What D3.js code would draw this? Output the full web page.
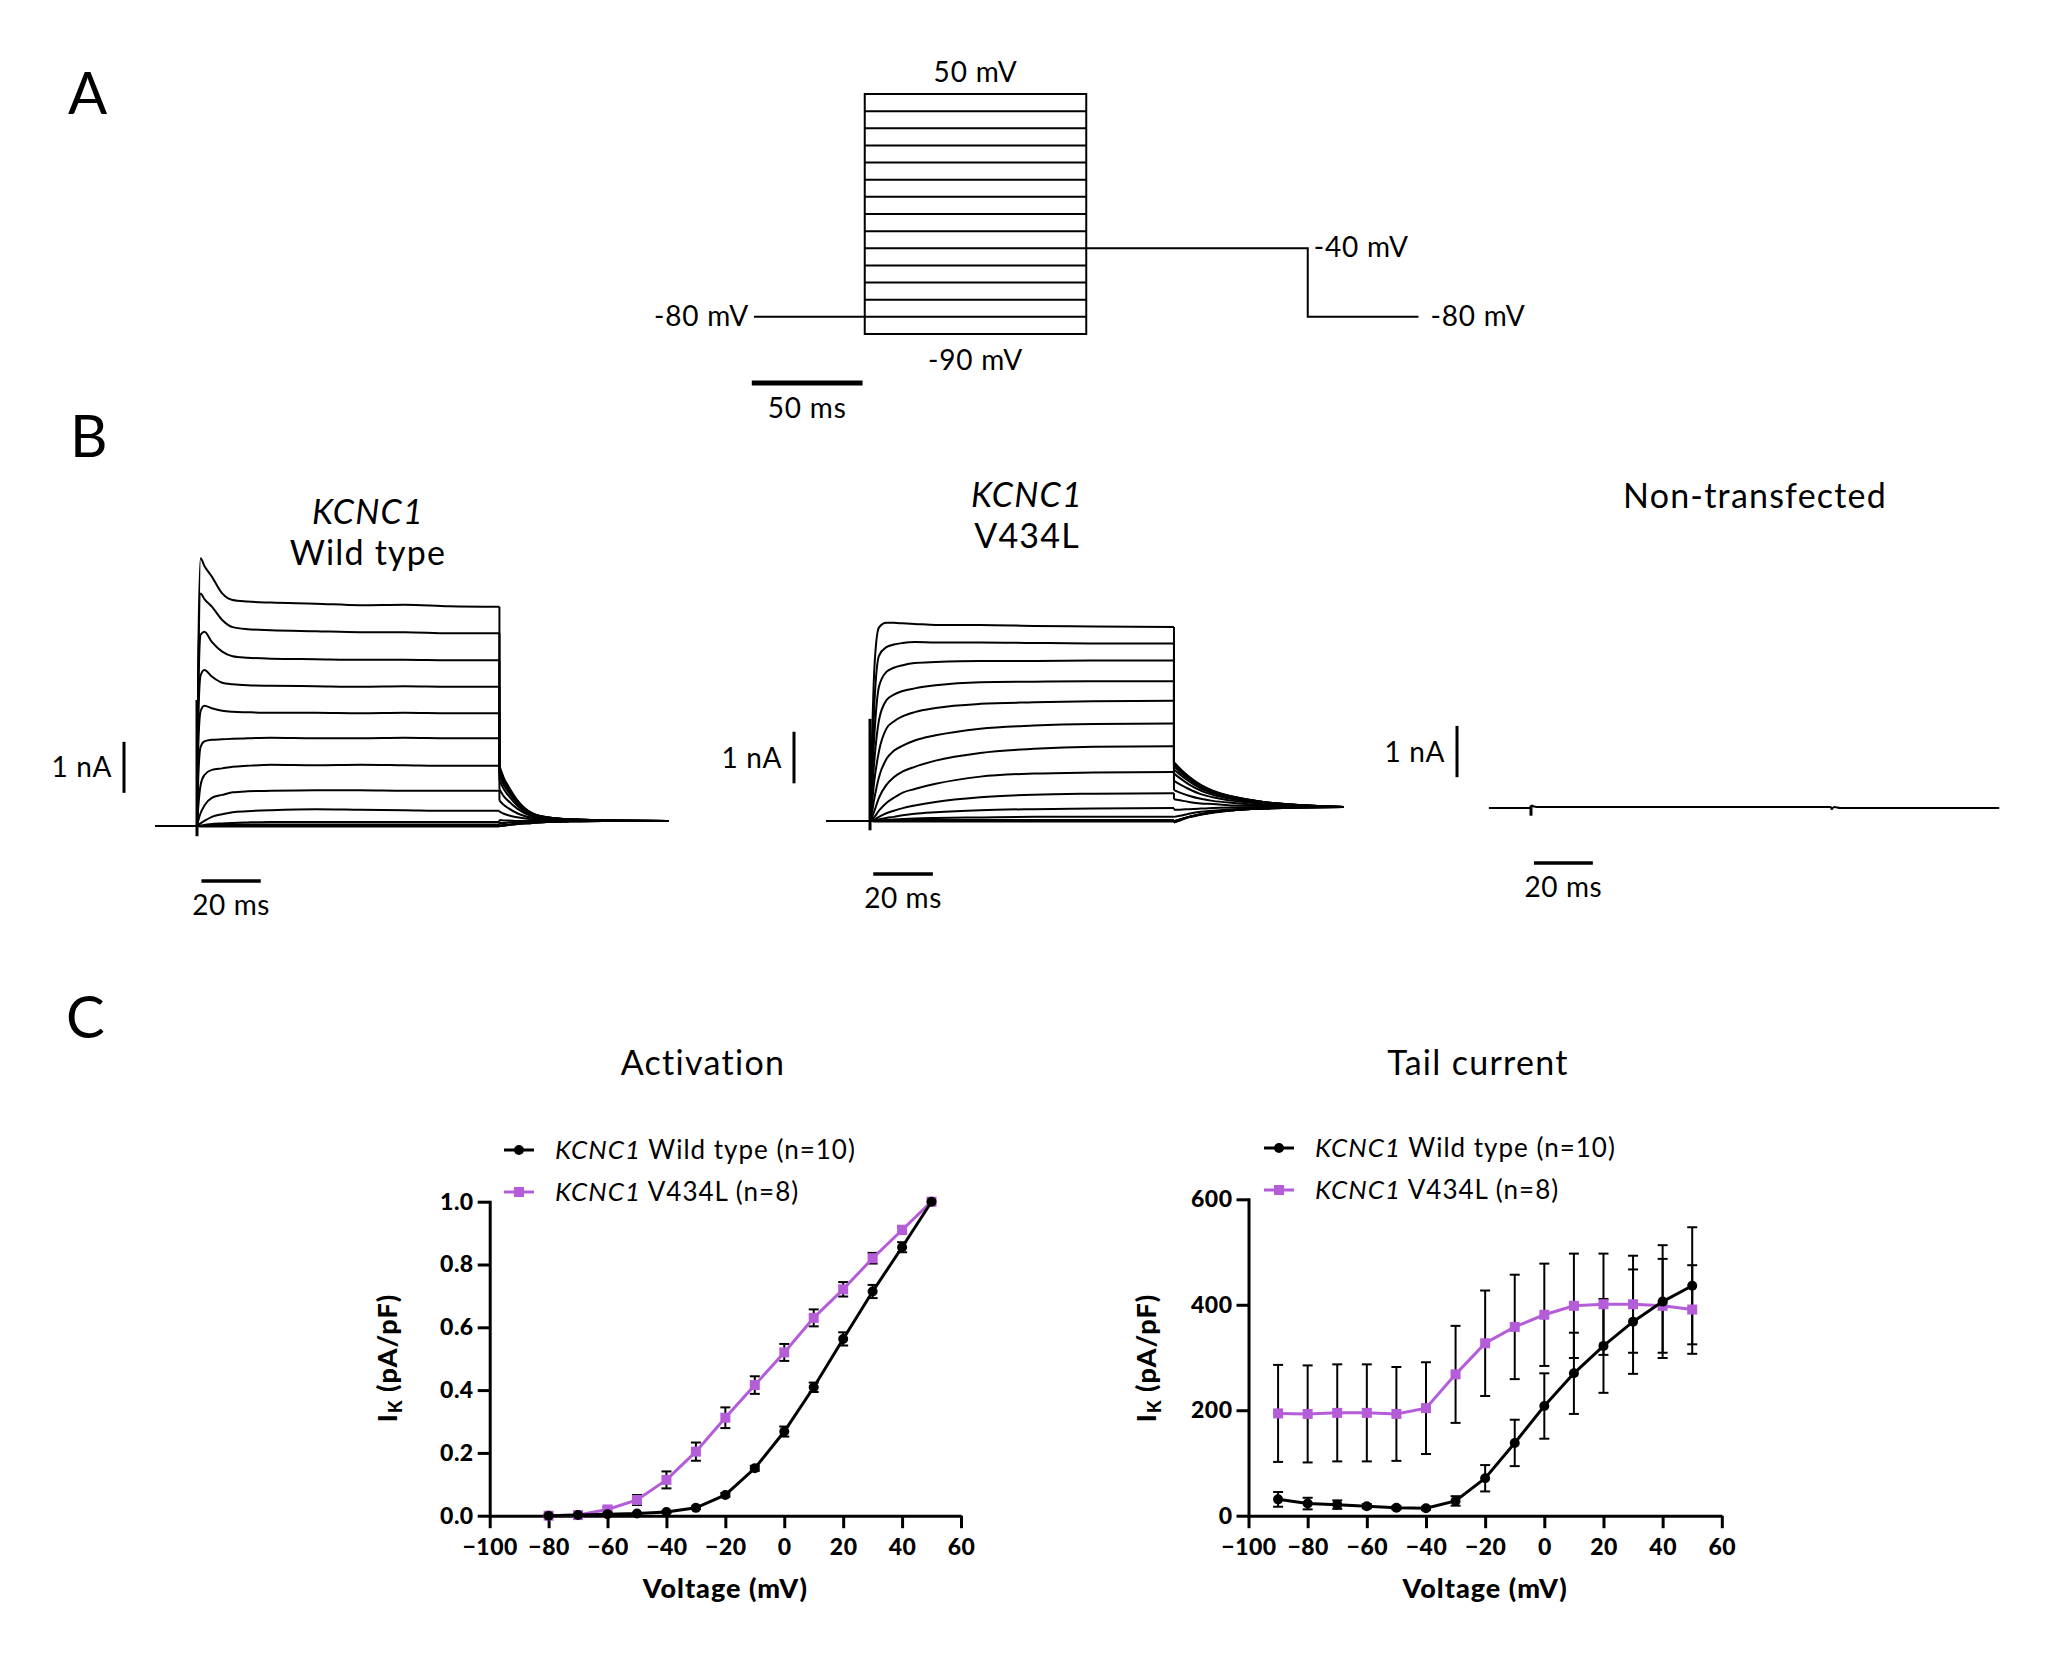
<!DOCTYPE html>
<html>
<head>
<meta charset="UTF-8">
<script src="https://cdn.jsdelivr.net/npm/d3@7"></script>
<style>
  body { margin: 0; background: #fff; }
  svg text { font-family: Lato, "Open Sans", sans-serif; fill: #000; }
</style>
</head>
<body>
<svg id="fig" width="2048" height="1653"></svg>
<script>
// ---------- A: voltage protocol ----------
var stepLevels = [-90, -80, -70, -60, -50, -40, -30, -20, -10, 0, 10, 20, 30, 40, 50];
var holdLevel = -80, tailLevel = -40;
var protoTimes = [0, 50, 150, 250, 300];   // hold | step | tail | hold | end (ms)

// ---------- B: current traces (nA), one row per step level, -90 ... 50 mV ----------
var wtStepT = [0, 0.4, 1.2, 2.5, 5, 8.5, 12, 17, 25, 40, 55, 70, 85, 102];
var wtStep = [
  [0, 0, -0.01, -0.01, -0.01, -0.01, -0.01, -0.01, -0.01, -0.01, -0.01, -0.01, -0.01, -0.01],
  [0, 0, 0, 0, 0, 0, 0, 0, 0, 0, 0, 0, 0, 0],
  [0, 0, 0, 0, 0, 0.01, 0.01, 0.01, 0.01, 0.01, 0.01, 0.01, 0.01, 0.01],
  [0, 0, 0, 0, 0.01, 0.01, 0.01, 0.02, 0.02, 0.02, 0.02, 0.02, 0.02, 0.02],
  [0, 0, 0, 0.01, 0.02, 0.02, 0.03, 0.03, 0.03, 0.03, 0.03, 0.03, 0.03, 0.03],
  [0, 0, 0.01, 0.02, 0.04, 0.05, 0.06, 0.07, 0.08, 0.08, 0.08, 0.08, 0.08, 0.08],
  [0, 0.02, 0.05, 0.1, 0.18, 0.23, 0.27, 0.29, 0.31, 0.33, 0.32, 0.31, 0.30, 0.30],
  [0, 0.1, 0.25, 0.40, 0.55, 0.61, 0.66, 0.68, 0.69, 0.70, 0.70, 0.69, 0.69, 0.69],
  [0, 0.35, 0.80, 1.0, 1.10, 1.13, 1.16, 1.18, 1.20, 1.19, 1.20, 1.19, 1.18, 1.18],
  [0, 0.9, 1.55, 1.66, 1.69, 1.70, 1.71, 1.72, 1.73, 1.72, 1.72, 1.73, 1.72, 1.72],
  [0, 1.5, 2.25, 2.36, 2.31, 2.26, 2.24, 2.23, 2.22, 2.22, 2.21, 2.22, 2.21, 2.21],
  [0, 2.0, 2.95, 3.06, 2.93, 2.81, 2.78, 2.76, 2.75, 2.74, 2.73, 2.74, 2.73, 2.73],
  [0, 2.4, 3.75, 3.81, 3.61, 3.42, 3.33, 3.30, 3.28, 3.27, 3.26, 3.26, 3.25, 3.25],
  [0, 2.8, 4.56, 4.45, 4.30, 4.04, 3.90, 3.86, 3.84, 3.82, 3.80, 3.80, 3.78, 3.78],
  [0, 3.2, 5.25, 5.10, 4.89, 4.56, 4.43, 4.40, 4.38, 4.36, 4.33, 4.34, 4.31, 4.30]
];
var wtTailT = [0, 1.5, 3, 6, 11, 16, 23, 35, 57];
var wtTail = [
  [0.00, 0.01, 0.02, 0.04, 0.06, 0.08, 0.09, 0.10, 0.10],
  [0.00, 0.01, 0.02, 0.04, 0.06, 0.08, 0.09, 0.10, 0.10],
  [0.00, 0.01, 0.02, 0.04, 0.06, 0.08, 0.09, 0.10, 0.10],
  [0.01, 0.02, 0.03, 0.05, 0.07, 0.08, 0.09, 0.10, 0.10],
  [0.06, 0.06, 0.07, 0.08, 0.09, 0.09, 0.10, 0.10, 0.10],
  [0.12, 0.11, 0.11, 0.10, 0.10, 0.10, 0.10, 0.10, 0.10],
  [0.28, 0.24, 0.21, 0.17, 0.13, 0.11, 0.10, 0.10, 0.10],
  [0.50, 0.41, 0.35, 0.25, 0.16, 0.13, 0.11, 0.10, 0.10],
  [0.72, 0.58, 0.49, 0.34, 0.19, 0.14, 0.12, 0.11, 0.10],
  [0.90, 0.72, 0.60, 0.40, 0.21, 0.15, 0.12, 0.11, 0.10],
  [1.00, 0.80, 0.67, 0.44, 0.23, 0.16, 0.13, 0.11, 0.10],
  [1.08, 0.86, 0.72, 0.47, 0.24, 0.16, 0.13, 0.11, 0.10],
  [1.12, 0.90, 0.74, 0.49, 0.24, 0.17, 0.13, 0.11, 0.10],
  [1.15, 0.92, 0.76, 0.50, 0.25, 0.17, 0.13, 0.11, 0.10],
  [1.18, 0.94, 0.78, 0.51, 0.25, 0.17, 0.13, 0.11, 0.10]
];
var wtSpike = [-0.2, 2.47];

var mutStepT = [0, 0.5, 1.5, 3, 5.5, 8, 11, 15, 22, 37, 55, 75, 102];
var mutStep = [
  [0, 0, -0.01, -0.01, -0.01, -0.01, -0.01, -0.01, -0.01, -0.01, -0.01, -0.01, -0.01],
  [0, 0, 0, 0, 0, 0, 0, 0, 0, 0, 0, 0, 0],
  [0, 0, 0, 0, 0, 0.01, 0.01, 0.01, 0.01, 0.01, 0.01, 0.01, 0.01],
  [0, 0, 0, 0, 0.01, 0.01, 0.01, 0.02, 0.02, 0.02, 0.02, 0.02, 0.02],
  [0, 0, 0, 0.01, 0.02, 0.03, 0.04, 0.05, 0.06, 0.07, 0.08, 0.08, 0.08],
  [0, 0, 0.01, 0.03, 0.06, 0.08, 0.11, 0.14, 0.17, 0.21, 0.23, 0.24, 0.25],
  [0, 0.01, 0.03, 0.08, 0.15, 0.2, 0.25, 0.30, 0.37, 0.46, 0.51, 0.53, 0.54],
  [0, 0.02, 0.08, 0.2, 0.35, 0.45, 0.55, 0.62, 0.72, 0.86, 0.92, 0.94, 0.95],
  [0, 0.05, 0.2, 0.45, 0.70, 0.85, 0.96, 1.05, 1.17, 1.32, 1.40, 1.44, 1.45],
  [0, 0.12, 0.45, 0.85, 1.2, 1.36, 1.46, 1.56, 1.66, 1.79, 1.85, 1.88, 1.89],
  [0, 0.25, 0.8, 1.35, 1.79, 1.93, 2.03, 2.11, 2.19, 2.27, 2.30, 2.32, 2.33],
  [0, 0.4, 1.2, 1.95, 2.34, 2.45, 2.52, 2.57, 2.63, 2.69, 2.70, 2.71, 2.71],
  [0, 0.6, 1.7, 2.6, 2.89, 2.97, 3.02, 3.06, 3.08, 3.10, 3.10, 3.11, 3.11],
  [0, 0.8, 2.3, 3.2, 3.37, 3.42, 3.45, 3.47, 3.46, 3.46, 3.45, 3.44, 3.44],
  [0, 1.2, 3.0, 3.75, 3.84, 3.84, 3.83, 3.82, 3.80, 3.80, 3.78, 3.77, 3.76]
];
var mutTailT = [0, 2, 5, 9, 13, 20, 30, 42, 57];
var mutTail = [
  [-0.03, 0.01, 0.07, 0.12, 0.16, 0.21, 0.24, 0.26, 0.27],
  [-0.02, 0.02, 0.08, 0.13, 0.17, 0.21, 0.24, 0.26, 0.27],
  [-0.01, 0.03, 0.08, 0.13, 0.17, 0.21, 0.24, 0.26, 0.27],
  [0.00, 0.03, 0.08, 0.13, 0.17, 0.21, 0.24, 0.26, 0.27],
  [0.08, 0.10, 0.14, 0.18, 0.20, 0.23, 0.25, 0.26, 0.27],
  [0.22, 0.22, 0.23, 0.24, 0.25, 0.26, 0.26, 0.27, 0.27],
  [0.42, 0.40, 0.37, 0.34, 0.33, 0.30, 0.29, 0.28, 0.27],
  [0.60, 0.55, 0.49, 0.43, 0.39, 0.35, 0.31, 0.29, 0.27],
  [0.78, 0.71, 0.62, 0.52, 0.46, 0.39, 0.33, 0.29, 0.27],
  [0.92, 0.83, 0.71, 0.59, 0.51, 0.42, 0.34, 0.30, 0.27],
  [1.00, 0.90, 0.77, 0.63, 0.54, 0.44, 0.35, 0.30, 0.27],
  [1.06, 0.95, 0.81, 0.66, 0.56, 0.45, 0.36, 0.31, 0.27],
  [1.10, 0.98, 0.83, 0.68, 0.58, 0.46, 0.37, 0.31, 0.27],
  [1.12, 1.00, 0.85, 0.69, 0.58, 0.47, 0.37, 0.31, 0.27],
  [1.14, 1.02, 0.86, 0.70, 0.59, 0.47, 0.37, 0.31, 0.27]
];
var mutSpike = [-0.18, 1.98];

var ntStepT = [0, 0.3, 1, 3, 20, 50, 80, 102];
var ntStep = [0, 0.05, 0.03, 0.02, 0.02, 0.02, 0.02, 0.02];
var ntTailT = [0, 1, 3, 57];
var ntTail = [-0.03, 0.02, 0.0, 0.0];
var ntSpike = [-0.15, 0.05];

// ---------- C: I-V data ----------
var actVolts = [-80, -70, -60, -50, -40, -30, -20, -10, 0, 10, 20, 30, 40, 50];
var actWt = [0.0, 0.002, 0.005, 0.007, 0.012, 0.025, 0.066, 0.151, 0.268, 0.409, 0.563, 0.714, 0.855, 1.0];
var actWtErr = [0.003, 0.002, 0.002, 0.002, 0.003, 0.004, 0.006, 0.008, 0.016, 0.015, 0.021, 0.021, 0.016, 0];
var actMut = [0.0, 0.002, 0.02, 0.05, 0.114, 0.204, 0.312, 0.416, 0.52, 0.63, 0.721, 0.82, 0.91, 1.0];
var actMutErr = [0.003, 0.004, 0.008, 0.016, 0.027, 0.029, 0.033, 0.028, 0.027, 0.027, 0.023, 0.017, 0.013, 0];

var tailVolts = [-90, -80, -70, -60, -50, -40, -30, -20, -10, 0, 10, 20, 30, 40, 50];
var tailWt = [31, 23, 21, 18, 15, 14, 28, 71, 138, 208, 270, 322, 368, 406, 436];
var tailWtErr = [14, 11, 8, 4, 3, 3, 9, 25, 44, 62, 77, 89, 99, 107, 111];
var tailMut = [194, 193, 195, 195, 193, 204, 268, 327, 358, 381, 398, 401, 401, 398, 391];
var tailMutErr = [92, 92, 92, 92, 89, 87, 92, 100, 99, 97, 99, 96, 92, 89, 84];

var purple = "#b55dd9";
var svg = d3.select("#fig");
svg.append("rect").attr("width", 2048).attr("height", 1653).attr("fill", "#fff");

// panel letters
[["A", 68, 114], ["B", 70, 457], ["C", 66, 1038]].forEach(function(p) {
  svg.append("text").attr("x", p[1]).attr("y", p[2]).attr("font-size", 58).text(p[0]);
});

// ===== A =====
var ax = d3.scaleLinear().domain([0, 300]).range([754, 1418.5]);
var ay = d3.scaleLinear().domain([-90, 50]).range([334, 94]);
var gA = svg.append("g").attr("stroke", "#000").attr("stroke-width", 2).attr("fill", "none");
gA.append("path").attr("d", d3.line()([
  [ax(protoTimes[0]), ay(holdLevel)], [ax(protoTimes[1]), ay(holdLevel)]]));
gA.selectAll("line.lvl").data(stepLevels).enter().append("line")
  .attr("x1", ax(protoTimes[1])).attr("x2", ax(protoTimes[2]))
  .attr("y1", function(d) { return ay(d); }).attr("y2", function(d) { return ay(d); });
gA.append("rect").attr("x", ax(protoTimes[1])).attr("y", ay(d3.max(stepLevels)))
  .attr("width", ax(protoTimes[2]) - ax(protoTimes[1]))
  .attr("height", ay(d3.min(stepLevels)) - ay(d3.max(stepLevels)));
gA.append("path").attr("d", d3.line()([
  [ax(protoTimes[2]), ay(tailLevel)], [ax(protoTimes[3]), ay(tailLevel)],
  [ax(protoTimes[3]), ay(holdLevel)], [ax(protoTimes[4]), ay(holdLevel)]]));
svg.append("line").attr("x1", ax(-1)).attr("x2", ax(49)).attr("y1", 383).attr("y2", 383)
  .attr("stroke", "#000").attr("stroke-width", 5);
var fA = 28, lsA = 0.8;
function aText(x, y, anchor, s) {
  return svg.append("text").attr("x", x).attr("y", y).attr("text-anchor", anchor)
    .attr("font-size", fA).attr("letter-spacing", lsA).text(s);
}
aText(ax(100), 82, "middle", d3.max(stepLevels) + " mV");
aText(ax(100), 370, "middle", d3.min(stepLevels) + " mV");
aText(ax(protoTimes[0]) - 5, ay(holdLevel) + 9, "end", holdLevel + " mV");
aText(ax(protoTimes[3]) + 6, ay(tailLevel) + 9, "start", tailLevel + " mV");
aText(ax(protoTimes[4]) + 12, ay(holdLevel) + 9, "start", holdLevel + " mV");
aText(ax(24), 418, "middle", "50 ms");

// ===== B =====
function tracePanel(o) {
  var x = d3.scaleLinear().domain([0, 20]).range([o.onset, o.onset + 20 * o.pxMs]);
  var y = d3.scaleLinear().domain([0, 1]).range([o.base, o.base - o.pxNa]);
  var g = svg.append("g").attr("fill", "none").attr("stroke", "#000").attr("stroke-width", 2);
  var line = d3.line().x(function(d) { return x(d[0]); }).y(function(d) { return y(d[1]); })
    .curve(d3.curveMonotoneX);
  var tEnd = o.stepT[o.stepT.length - 1];
  o.step.forEach(function(vals, i) {
    var pts = [[o.preT, 0]].concat(o.stepT.map(function(t, j) { return [t, vals[j]]; }));
    g.append("path").attr("d", line(pts));
    var tail = o.tail[i];
    g.append("line").attr("x1", x(tEnd)).attr("x2", x(tEnd))
      .attr("y1", y(vals[vals.length - 1])).attr("y2", y(tail[0]));
    g.append("path").attr("d", line(o.tailT.map(function(t, j) { return [tEnd + t, tail[j]]; })));
  });
  g.append("line").attr("x1", x(0)).attr("x2", x(0)).attr("y1", y(o.spike[0])).attr("y2", y(o.spike[1]))
    .attr("stroke-width", 3);
  // scale bars
  svg.append("line").attr("x1", x(o.barT)).attr("x2", x(o.barT + 20)).attr("y1", o.barY).attr("y2", o.barY)
    .attr("stroke", "#000").attr("stroke-width", 3.5);
  svg.append("text").attr("x", x(o.barT + 10)).attr("y", o.barTextY).attr("text-anchor", "middle")
    .attr("font-size", 28).attr("letter-spacing", 0.6).text("20 ms");
  svg.append("line").attr("x1", o.naX).attr("x2", o.naX).attr("y1", y(o.naLo)).attr("y2", y(o.naLo + 1))
    .attr("stroke", "#000").attr("stroke-width", 3);
  svg.append("text").attr("x", o.naX - 12).attr("y", y(o.naLo + 0.5) + 10).attr("text-anchor", "end")
    .attr("font-size", 28).attr("letter-spacing", 0.6).text("1 nA");
  // titles
  var t = svg.append("text").attr("x", o.titleX).attr("y", o.titleY).attr("text-anchor", "middle")
    .attr("font-size", 34).attr("letter-spacing", 1.2);
  if (o.title2) {
    t.attr("font-style", "italic").text(o.title1);
    svg.append("text").attr("x", o.titleX).attr("y", o.titleY + 41).attr("text-anchor", "middle")
      .attr("font-size", 34).attr("letter-spacing", 1.2).text(o.title2);
  } else {
    t.text(o.title1);
  }
}

tracePanel({ onset: 197, pxMs: 2.965, base: 826, pxNa: 51, preT: -14,
  stepT: wtStepT, step: wtStep, tailT: wtTailT, tail: wtTail, spike: wtSpike,
  barT: 1.5, barY: 881, barTextY: 915, naX: 124, naLo: 0.65,
  title1: "KCNC1", title2: "Wild type", titleX: 368, titleY: 524 });

tracePanel({ onset: 870, pxMs: 2.98, base: 821, pxNa: 51.6, preT: -14.5,
  stepT: mutStepT, step: mutStep, tailT: mutTailT, tail: mutTail, spike: mutSpike,
  barT: 1.1, barY: 874, barTextY: 908, naX: 794, naLo: 0.73,
  title1: "KCNC1", title2: "V434L", titleX: 1027, titleY: 507 });

tracePanel({ onset: 1531, pxMs: 2.945, base: 808, pxNa: 51.3, preT: -14.3,
  stepT: ntStepT, step: [ntStep], tailT: ntTailT, tail: [ntTail], spike: ntSpike,
  barT: 1.0, barY: 863, barTextY: 897, naX: 1457, naLo: 0.6,
  title1: "Non-transfected", titleX: 1755, titleY: 508 });

// ===== C =====
function ivPlot(o) {
  var x = d3.scaleLinear().domain([-100, 60]).range([o.left, o.right]);
  var y = d3.scaleLinear().domain([0, o.yMax]).range([1515.7, o.top]);
  var g = svg.append("g");
  var xa = g.append("g").attr("transform", "translate(0,1515.7)")
    .call(d3.axisBottom(x).tickValues(d3.range(-100, 61, 20)).tickSize(12.5).tickSizeOuter(0).tickPadding(10));
  var ya = g.append("g").attr("transform", "translate(" + o.left + ",0)")
    .call(d3.axisLeft(y).tickValues(o.yTicks).tickFormat(o.yFmt).tickSize(12).tickSizeOuter(0).tickPadding(4));
  [xa, ya].forEach(function(a) {
    a.selectAll("path, line").attr("stroke", "#000").attr("stroke-width", 3);
    a.selectAll("text").attr("font-size", 23).attr("font-weight", 900).attr("letter-spacing", 0.5)
      .attr("font-family", "Lato, 'Open Sans', sans-serif").attr("fill", "#000");
  });
  ya.select(".domain").attr("stroke-linecap", "square");
  g.append("text").attr("x", x(-20)).attr("y", 1598).attr("text-anchor", "middle")
    .attr("font-size", 27).attr("font-weight", 900).attr("letter-spacing", 1).text("Voltage (mV)");
  var yl = g.append("text").attr("transform", "translate(" + (o.left - 93) + ",1358) rotate(-90)")
    .attr("text-anchor", "middle").attr("font-size", 27).attr("font-weight", 900).attr("letter-spacing", 1);
  yl.append("tspan").text("I");
  yl.append("tspan").attr("font-size", 18).attr("dy", 5).text("K");
  yl.append("tspan").attr("dy", -5).text(" (pA/pF)");
  g.append("text").attr("x", o.titleX).attr("y", 1075).attr("text-anchor", "middle")
    .attr("font-size", 34).attr("letter-spacing", 1.3).text(o.title);

  // error bars first
  o.series.forEach(function(s) {
    var eb = g.append("g").attr("stroke", "#000").attr("stroke-width", 2);
    o.volts.forEach(function(v, i) {
      if (!s.err[i]) return;
      var cx = x(v), yt = y(s.vals[i] + s.err[i]), yb = y(s.vals[i] - s.err[i]);
      eb.append("line").attr("x1", cx).attr("x2", cx).attr("y1", yt).attr("y2", yb);
      eb.append("line").attr("x1", cx - 5).attr("x2", cx + 5).attr("y1", yt).attr("y2", yt);
      eb.append("line").attr("x1", cx - 5).attr("x2", cx + 5).attr("y1", yb).attr("y2", yb);
    });
  });
  o.series.slice().reverse().forEach(function(s) {
    var pts = o.volts.map(function(v, i) { return [x(v), y(s.vals[i])]; });
    g.append("path").attr("d", d3.line()(pts)).attr("fill", "none")
      .attr("stroke", s.color).attr("stroke-width", 3);
    drawMarks(g, pts, s);
  });
  // legend
  o.series.forEach(function(s, i) {
    var ly = o.legY + i * 42;
    g.append("line").attr("x1", o.legX).attr("x2", o.legX + 30).attr("y1", ly).attr("y2", ly)
      .attr("stroke", s.color).attr("stroke-width", 3);
    drawMarks(g, [[o.legX + 15, ly]], s);
    var t = g.append("text").attr("x", o.legX + 51).attr("y", ly + 9).attr("font-size", 26)
      .attr("letter-spacing", 1);
    t.append("tspan").attr("font-style", "italic").text("KCNC1");
    t.append("tspan").text(" " + s.name);
  });
}

function drawMarks(g, pts, s) {
  if (s.shape === "circle") {
    g.selectAll(null).data(pts).enter().append("circle")
      .attr("cx", function(d) { return d[0]; }).attr("cy", function(d) { return d[1]; })
      .attr("r", 5).attr("fill", s.color);
  } else {
    g.selectAll(null).data(pts).enter().append("rect")
      .attr("x", function(d) { return d[0] - 5; }).attr("y", function(d) { return d[1] - 5; })
      .attr("width", 10).attr("height", 10).attr("fill", s.color);
  }
}

ivPlot({ left: 489.7, right: 961, top: 1201.7, yMax: 1, yTicks: [0, 0.2, 0.4, 0.6, 0.8, 1.0],
  yFmt: d3.format(".1f"), volts: actVolts, title: "Activation", titleX: 703,
  legX: 504, legY: 1150,
  series: [
    { name: "Wild type (n=10)", vals: actWt, err: actWtErr, color: "#000", shape: "circle" },
    { name: "V434L (n=8)", vals: actMut, err: actMutErr, color: purple, shape: "square" }
  ] });

ivPlot({ left: 1248.5, right: 1721.8, top: 1199.3, yMax: 600, yTicks: [0, 200, 400, 600],
  yFmt: d3.format("d"), volts: tailVolts, title: "Tail current", titleX: 1478,
  legX: 1264, legY: 1148,
  series: [
    { name: "Wild type (n=10)", vals: tailWt, err: tailWtErr, color: "#000", shape: "circle" },
    { name: "V434L (n=8)", vals: tailMut, err: tailMutErr, color: purple, shape: "square" }
  ] });
</script>
</body>
</html>
